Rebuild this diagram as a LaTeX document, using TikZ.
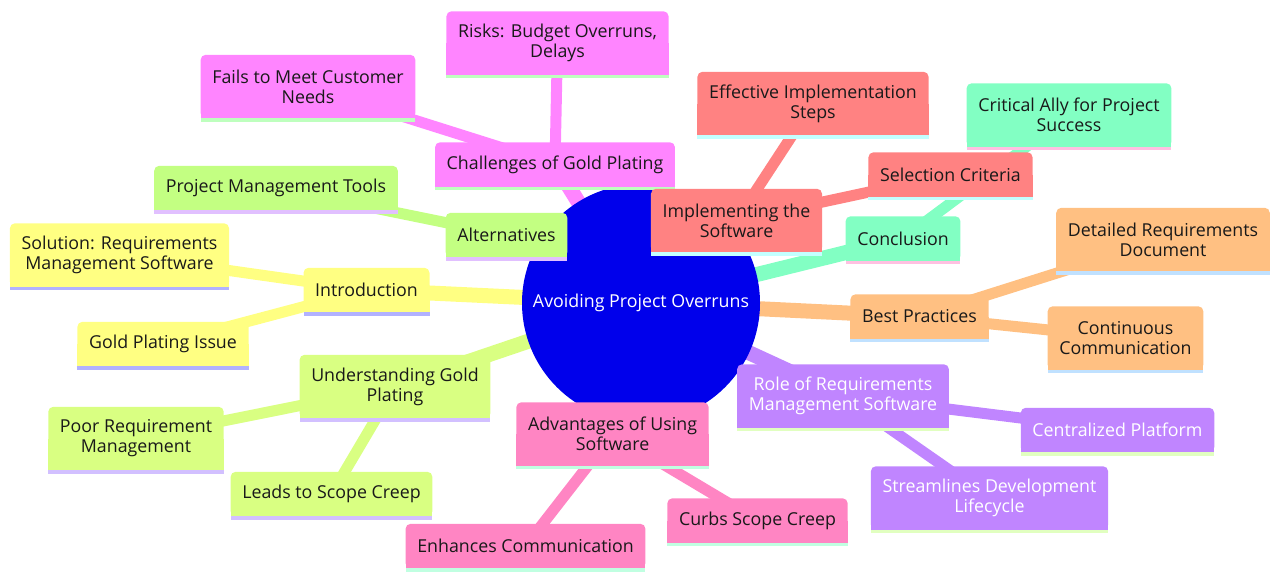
\documentclass[tikz,border=0pt]{standalone}
\usepackage{fontspec}
\setmainfont{Open Sans}
\usepackage{tikz}
\usetikzlibrary{positioning}
\definecolor{rootblue}{RGB}{0,0,235}
\definecolor{mmink}{RGB}{25,25,25}
\definecolor{cmag}{RGB}{255,133,255}  \definecolor{smag}{RGB}{190,255,190}
\definecolor{csal}{RGB}{255,130,130}  \definecolor{ssal}{RGB}{195,255,255}
\definecolor{cmint}{RGB}{130,255,195} \definecolor{smint}{RGB}{255,192,225}
\definecolor{cora}{RGB}{255,192,130}  \definecolor{sora}{RGB}{192,225,255}
\definecolor{cpur}{RGB}{192,133,255}  \definecolor{spur}{RGB}{225,255,192}
\definecolor{cpink}{RGB}{255,133,195} \definecolor{spink}{RGB}{192,255,225}
\definecolor{clime}{RGB}{217,255,130} \definecolor{slime}{RGB}{210,192,255}
\definecolor{cyel}{RGB}{255,255,130}  \definecolor{syel}{RGB}{178,178,255}
\definecolor{cgrn}{RGB}{195,255,130}  \definecolor{sgrn}{RGB}{225,192,255}
\pgfdeclarelayer{edges}
\pgfdeclarelayer{boxes}
\pgfsetlayers{edges,boxes,main}
\tikzset{
    mmtext/.style={align=center,inner xsep=11.5pt,inner ysep=0pt,minimum height=44pt,
        font=\fontsize{17.8}{20}\selectfont,text=mmink},
    twoline/.style={minimum height=63pt},
    lighttext/.style={text=white},
    trunk/.style={draw=#1,line width=15pt},
    twig/.style={draw=#1,line width=11pt},
}
\begin{document}
\begin{tikzpicture}[x=1pt,y=-1pt]
    \useasboundingbox (0,0) rectangle (1280,581);

    \node [mmtext,lighttext] (root) at (641,303) {Avoiding Project Overruns};

    % sections and their leaves
    \node [mmtext] (chal) at (555,164.5) {Challenges of Gold Plating};
    \node [mmtext,twoline] (risks) at (557.5,43) {Risks: Budget Overruns,\\Delays};
    \node [mmtext,twoline] (fails) at (308,86.5) {Fails to Meet Customer\\Needs};

    \node [mmtext] (alt) at (506.5,235) {Alternatives};
    \node [mmtext] (pmtools) at (276,188) {Project Management Tools};

    \node [mmtext] (intro) at (366.5,290) {Introduction};
    \node [mmtext,twoline] (solution) at (119.5,255) {Solution: Requirements\\Management Software};
    \node [mmtext] (goldissue) at (163,344) {Gold Plating Issue};

    \node [mmtext,twoline] (underst) at (395,386.5) {Understanding Gold\\Plating};
    \node [mmtext,twoline] (poorreq) at (136,438.5) {Poor Requirement\\Management};
    \node [mmtext] (scope) at (331.5,494) {Leads to Scope Creep};

    \node [mmtext,twoline] (advant) at (612.5,434) {Advantages of Using\\Software};
    \node [mmtext] (enhance) at (525.5,546) {Enhances Communication};
    \node [mmtext] (curbs) at (757.5,520.5) {Curbs Scope Creep};

    \node [mmtext,twoline,lighttext] (role) at (843,396) {Role of Requirements\\Management Software};
    \node [mmtext,lighttext] (central) at (1117.5,430) {Centralized Platform};
    \node [mmtext,twoline,lighttext] (stream) at (989.5,498) {Streamlines Development\\Lifecycle};

    \node [mmtext] (best) at (919.5,316.5) {Best Practices};
    \node [mmtext,twoline] (detailed) at (1163,239.5) {Detailed Requirements\\Document};
    \node [mmtext,twoline] (contin) at (1125.5,338) {Continuous\\Communication};

    \node [mmtext] (concl) at (903,238.5) {Conclusion};
    \node [mmtext,twoline] (ally) at (1069,115) {Critical Ally for Project\\Success};

    \node [mmtext,twoline] (impl) at (736.5,220.5) {Implementing the\\Software};
    \node [mmtext,twoline] (effective) at (813,103.5) {Effective Implementation\\Steps};
    \node [mmtext] (selection) at (950.5,174.5) {Selection Criteria};

    % boxes, under the texts
    \begin{pgfonlayer}{boxes}
        \fill [rootblue] (root.center) circle (119pt);
        \foreach \n/\c/\s in {chal/cmag/smag,risks/cmag/smag,fails/cmag/smag,
            alt/cgrn/sgrn,pmtools/cgrn/sgrn,
            intro/cyel/syel,solution/cyel/syel,goldissue/cyel/syel,
            underst/clime/slime,poorreq/clime/slime,scope/clime/slime,
            advant/cpink/spink,enhance/cpink/spink,curbs/cpink/spink,
            role/cpur/spur,central/cpur/spur,stream/cpur/spur,
            best/cora/sora,detailed/cora/sora,contin/cora/sora,
            concl/cmint/smint,ally/cmint/smint,
            impl/csal/ssal,effective/csal/ssal,selection/csal/ssal} {
            \fill [\c,rounded corners=5pt] (\n.south west) rectangle (\n.north east);
            \fill [\c] (\n.south west) rectangle (\n.east);
            \fill [\s] (\n.south west) rectangle ([yshift=-3.5pt]\n.south east);
        }
    \end{pgfonlayer}

    % connectors, under everything
    \begin{pgfonlayer}{edges}
        \foreach \b/\c in {chal/cmag,alt/cgrn,intro/cyel,underst/clime,
            advant/cpink,role/cpur,best/cora,concl/cmint,impl/csal}
            \path [trunk=\c] (root.center) -- (\b.center);
        \foreach \a/\b/\c in {chal/risks/cmag,chal/fails/cmag,alt/pmtools/cgrn,
            intro/solution/cyel,intro/goldissue/cyel,underst/poorreq/clime,
            underst/scope/clime,advant/enhance/cpink,advant/curbs/cpink,
            role/central/cpur,role/stream/cpur,best/detailed/cora,
            best/contin/cora,concl/ally/cmint,impl/effective/csal,
            impl/selection/csal}
            \path [twig=\c] (\a.center) -- (\b.center);
    \end{pgfonlayer}
\end{tikzpicture}
\end{document}
